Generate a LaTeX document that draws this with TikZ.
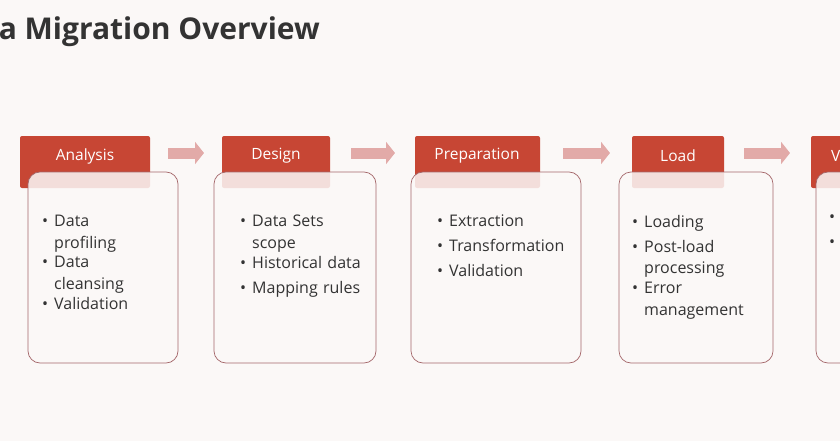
\documentclass[tikz,border=0pt]{standalone}
\usepackage{fontspec}
\setmainfont{Open Sans}
\usetikzlibrary{arrows.meta}
\definecolor{bg}{HTML}{FBF8F7}
\definecolor{hdr}{HTML}{C74634}
\definecolor{arr}{HTML}{E2AAA8}
\definecolor{edge}{HTML}{A4676A}
\definecolor{txt}{HTML}{333333}
\tikzset{
  hdrtext/.style={text=white,font=\fontsize{15.5}{18}\selectfont},
  bodybox/.style={draw=edge,line width=0.7pt,fill=bg,fill opacity=0.86,rounded corners=12pt},
  flowarrow/.style={draw=arr,line width=11pt,-{Triangle[length=9pt,width=22pt]}},
  bl/.style={anchor=north west,align=left,text=txt,font=\fontsize{16}{21.5}\selectfont,inner sep=0pt,text width=#1},
}
\begin{document}
\begin{tikzpicture}[x=1pt,y=-1pt]
\fill[bg] (0,0) rectangle (840,441);
\useasboundingbox (0,0) rectangle (840,441);
\clip (0,0) rectangle (840,441);
\node[anchor=east,text=txt,font=\bfseries\fontsize{30}{34}\selectfont,inner sep=0pt] (title) at (320,32) {Data Migration Overview};
% headers
\fill[hdr,rounded corners=2pt] (20,136) rectangle (150,188);
\fill[hdr,rounded corners=2pt] (222,136) rectangle (330,188);
\fill[hdr,rounded corners=2pt] (415,136) rectangle (540,188);
\fill[hdr,rounded corners=2pt] (632,136) rectangle (724,188);
\fill[hdr,rounded corners=2pt] (811,136) rectangle (900,188);
\node[hdrtext] (h1) at (85,156) {Analysis};
\node[hdrtext] (h2) at (276,156) {Design};
\node[hdrtext] (h3) at (477,156) {Preparation};
\node[hdrtext] (h4) at (678,156) {Load};
\node[hdrtext,anchor=west,inner sep=0pt] (h5) at (831,156) {V};
% bodies
\draw[bodybox] (28,172) rectangle (178,363);
\draw[bodybox] (214,172) rectangle (376,363);
\draw[bodybox] (411,172) rectangle (581,363);
\draw[bodybox] (619,172) rectangle (773,363);
\draw[bodybox] (816,172) rectangle (920,363);
% arrows
\coordinate (a1s) at (168,153); \coordinate (a1e) at (204,153);
\coordinate (a2s) at (351,153); \coordinate (a2e) at (395,153);
\coordinate (a3s) at (563,153); \coordinate (a3e) at (610,153);
\coordinate (a4s) at (744,153); \coordinate (a4e) at (790,153);
\draw[flowarrow] (a1s) -- (a1e);
\draw[flowarrow] (a2s) -- (a2e);
\draw[flowarrow] (a3s) -- (a3e);
\draw[flowarrow] (a4s) -- (a4e);
% texts
\newcommand{\itm}[1]{\makebox[12pt][l]{•}\parbox[t]{\dimexpr\linewidth-12pt}{#1}\par\vspace{3.5pt}}
\node[bl=140pt] (t1) at (42,215) {\itm{Data\\profiling}\itm{Data\\cleansing}\itm{Validation}};
\node[bl=140pt] (t2) at (240,215) {\itm{Data Sets\\scope}\itm{Historical data}\itm{Mapping rules}};
\node[bl=160pt] (t3) at (437,215) {\itm{Extraction}\itm{Transformation}\itm{Validation}};
\node[bl=145pt] (t4) at (632,215) {\itm{Loading}\itm{Post-load\\processing}\itm{Error\\management}};
\node[bl=20pt] (t5) at (829,215) {\itm{}\itm{}};
\end{tikzpicture}
\end{document}
